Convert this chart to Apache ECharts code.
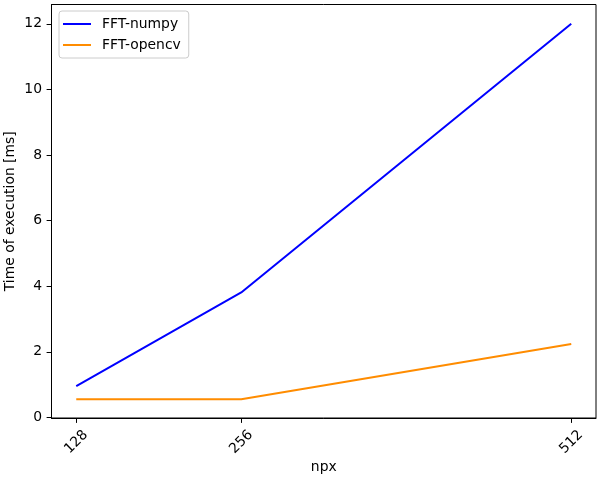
<!DOCTYPE html>
<html>
<head>
<meta charset="utf-8">
<script src="https://cdn.jsdelivr.net/npm/echarts@6/dist/echarts.min.js"></script>
<style>html,body{margin:0;padding:0;background:#fff}#c{width:600px;height:480px}</style>
</head>
<body>
<div id="c"></div>
<script>
var npx = [128, 256, 512];
var numpyTimes = [0.95, 3.81, 12.0];
var opencvTimes = [0.55, 0.55, 2.24];
var xTicks = [128, 256, 512];
var yTicks = [0, 2, 4, 6, 8, 10, 12];
var seriesNames = ['FFT-numpy', 'FFT-opencv'];

function pairs(xs, ys) { return xs.map(function (x, i) { return [x, ys[i]]; }); }

var font = 'DejaVu Sans';
var chart = echarts.init(document.getElementById('c'), null, { renderer: 'canvas' });
chart.setOption({
  animation: false,
  backgroundColor: '#fff',
  textStyle: { fontFamily: font },
  grid: { left: 51.5, right: 4, top: 4.5, bottom: 62, containLabel: false, outerBoundsMode: 'none', show: true, borderColor: '#000', borderWidth: 1 },
  legend: {
    orient: 'vertical', left: 59, top: 11,
    data: [{ name: seriesNames[0], icon: 'rect' }, { name: seriesNames[1], icon: 'rect' }],
    itemWidth: 28, itemHeight: 2, itemGap: 7,
    padding: [6, 8, 6, 4],
    borderColor: '#cccccc', borderWidth: 1, borderRadius: 3,
    backgroundColor: 'rgba(255,255,255,0.8)',
    textStyle: { fontFamily: font, fontSize: 13.9, color: '#000', padding: [0, 0, 0, 6] }
  },
  xAxis: {
    type: 'value', min: 108.8, max: 531.2,
    name: 'npx', nameLocation: 'middle', nameGap: 42, nameMoveOverlap: false,
    nameTextStyle: { fontFamily: font, fontSize: 13.9, color: '#000' },
    axisLine: { show: true, onZero: false, lineStyle: { color: '#000', width: 1 } },
    axisTick: { show: true, length: 4.9, lineStyle: { color: '#000' }, customValues: xTicks },
    axisLabel: { customValues: xTicks, rotate: 45, align: 'center', verticalAlign: 'middle', margin: 24, fontFamily: font, fontSize: 13.9, color: '#000' },
    splitLine: { show: false }
  },
  yAxis: {
    type: 'value', min: -0.02, max: 12.59,
    name: 'Time of execution [ms]', nameLocation: 'middle', nameGap: 34, nameMoveOverlap: false,
    nameTextStyle: { fontFamily: font, fontSize: 13.9, color: '#000' },
    axisLine: { show: true, onZero: false, lineStyle: { color: '#000', width: 1 } },
    axisTick: { show: true, length: 4.9, lineStyle: { color: '#000' }, customValues: yTicks },
    axisLabel: { customValues: yTicks, margin: 9.5, fontFamily: font, fontSize: 13.9, color: '#000' },
    splitLine: { show: false }
  },
  series: [
    { name: seriesNames[0], type: 'line', data: pairs(npx, numpyTimes), showSymbol: false, symbol: 'none', color: '#0000ff', lineStyle: { color: '#0000ff', width: 2 } },
    { name: seriesNames[1], type: 'line', data: pairs(npx, opencvTimes), showSymbol: false, symbol: 'none', color: '#ff8c00', lineStyle: { color: '#ff8c00', width: 2 } }
  ]
});
</script>
</body>
</html>
